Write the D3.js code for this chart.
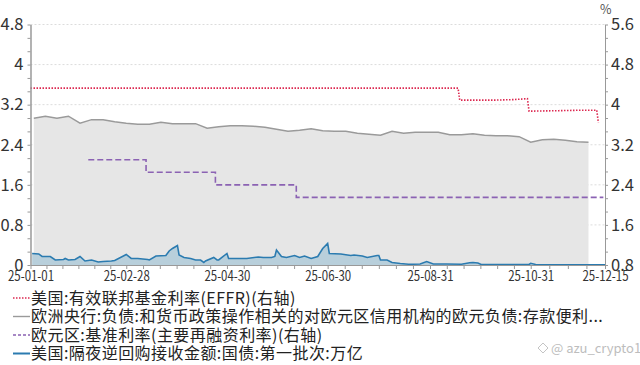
<!DOCTYPE html>
<html lang="zh">

<head>
    <meta charset="UTF-8">
    <title>Liquidity chart</title>
    <script src="https://cdn.jsdelivr.net/npm/d3@7"></script>
    <style>
        body { margin: 0; background: #fff; }
        svg { display: block; font-family: "Noto Sans CJK SC", "Noto Sans", sans-serif; }
    </style>
</head>

<body>
    <svg id="chart" width="640" height="365"></svg>

    <script>
        // tick labels
        const leftTicks = [0, 0.8, 1.6, 2.4, 3.2, 4, 4.8]
        const rightTicks = [0.8, 1.6, 2.4, 3.2, 4, 4.8, 5.6]
        const xTickDates = ['2025-01-01', '2025-02-28', '2025-04-30', '2025-06-30', '2025-08-31', '2025-10-31', '2025-12-15']

        // US EFFR (right axis)
        const effrDates = ['2025-01-01', '2025-09-17', '2025-09-18', '2025-10-08', '2025-10-20', '2025-10-29', '2025-10-30', '2025-11-17', '2025-12-01', '2025-12-10', '2025-12-11']
        const effrValues = [4.33, 4.33, 4.09, 4.09, 4.10, 4.12, 3.87, 3.88, 3.89, 3.89, 3.64]

        // ECB deposit facility, weekly on Fridays (left axis)
        const ecbStart = '2025-01-03'
        const ecbValues = [2.93, 2.97, 2.93, 2.97, 2.83, 2.90, 2.90, 2.86, 2.83, 2.81, 2.81, 2.85, 2.82, 2.82, 2.82, 2.73,
            2.76, 2.78, 2.78, 2.77, 2.75, 2.71, 2.67, 2.69, 2.72, 2.68, 2.67, 2.67, 2.63, 2.61, 2.59, 2.67, 2.63, 2.65,
            2.65, 2.65, 2.60, 2.60, 2.62, 2.59, 2.58, 2.58, 2.56, 2.45, 2.50, 2.51, 2.49, 2.46, 2.45]

        // euro area main refinancing rate (right axis)
        const mroDates = ['2025-02-05', '2025-03-12', '2025-04-23', '2025-06-11', '2025-12-14']
        const mroValues = [2.90, 2.65, 2.40, 2.15, 2.15]

        // US overnight reverse repo (left axis)
        const rrpDates = ['2025-01-02', '2025-01-06', '2025-01-08', '2025-01-13', '2025-01-16', '2025-01-21', '2025-01-22',
            '2025-01-24', '2025-01-28', '2025-01-31', '2025-02-03', '2025-02-07', '2025-02-11', '2025-02-14', '2025-02-19',
            '2025-02-21', '2025-02-28', '2025-03-03', '2025-03-07', '2025-03-13', '2025-03-14', '2025-03-18', '2025-03-24',
            '2025-03-26', '2025-03-28', '2025-03-31', '2025-04-01', '2025-04-04', '2025-04-08', '2025-04-11', '2025-04-14',
            '2025-04-16', '2025-04-17', '2025-04-22', '2025-04-24', '2025-04-25', '2025-04-30', '2025-05-01', '2025-05-06',
            '2025-05-12', '2025-05-19', '2025-05-22', '2025-05-27', '2025-05-29', '2025-05-30', '2025-06-02', '2025-06-05',
            '2025-06-10', '2025-06-13', '2025-06-16', '2025-06-20', '2025-06-24', '2025-06-27', '2025-06-30', '2025-07-01',
            '2025-07-08', '2025-07-14', '2025-07-16', '2025-07-21', '2025-07-24', '2025-07-30', '2025-07-31', '2025-08-01',
            '2025-08-05', '2025-08-08', '2025-08-13', '2025-08-18', '2025-08-21', '2025-08-25', '2025-08-29', '2025-09-02',
            '2025-09-10', '2025-09-19', '2025-09-24', '2025-09-26', '2025-09-29', '2025-10-01', '2025-10-14', '2025-10-30',
            '2025-10-31', '2025-11-03', '2025-11-07', '2025-11-20', '2025-12-02', '2025-12-15']
        const rrpValues = [0.23, 0.22, 0.17, 0.17, 0.10, 0.11, 0.13, 0.10, 0.11, 0.17, 0.08, 0.10, 0.06, 0.07, 0.08,
            0.09, 0.21, 0.13, 0.13, 0.11, 0.10, 0.18, 0.19, 0.28, 0.33, 0.39, 0.20, 0.15, 0.13, 0.10, 0.10,
            0.05, 0.08, 0.15, 0.10, 0.10, 0.23, 0.13, 0.13, 0.13, 0.16, 0.15, 0.15, 0.17, 0.30, 0.17, 0.15,
            0.19, 0.15, 0.18, 0.13, 0.17, 0.33, 0.43, 0.23, 0.22, 0.19, 0.20, 0.18, 0.15, 0.19, 0.19, 0.10,
            0.10, 0.05, 0.03, 0.015, 0.015, 0.02, 0.07, 0.02, 0.02, 0.015, 0.045, 0.05, 0.04, 0.01, 0.008, 0.01,
            0.035, 0.01, 0.006, 0.005, 0.005, 0.003]

        const legendLabels = [
            '美国:有效联邦基金利率(EFFR)(右轴)',
            '欧洲央行:负债:和货币政策操作相关的对欧元区信用机构的欧元负债:存款便利...',
            '欧元区:基准利率(主要再融资利率)(右轴)',
            '美国:隔夜逆回购接收金额:国债:第一批次:万亿'
        ]

        const parse = d3.timeParse('%Y-%m-%d')
        const zip = (dates, vals) => dates.map((d, i) => ({ date: parse(d), value: vals[i] }))

        const effr = zip(effrDates, effrValues)
        const mro = zip(mroDates, mroValues)
        const rrp = zip(rrpDates, rrpValues)
        const ecb = ecbValues.map((v, i) => ({ date: d3.timeDay.offset(parse(ecbStart), i * 7), value: v }))

        const plotLeft = 30.5, plotRight = 605, plotTop = 24.5, plotBottom = 265

        const x = d3.scaleTime().domain([parse(xTickDates[0]), parse(xTickDates[6])]).range([plotLeft, plotRight])
        const yL = d3.scaleLinear().domain([0, 4.8]).range([plotBottom, plotTop])
        const yR = d3.scaleLinear().domain([0.8, 5.6]).range([plotBottom, plotTop])

        const svg = d3.select('#chart')
        const fmt = v => String(+v.toFixed(1))

        // grid
        svg.append('g')
            .selectAll('line')
            .data(leftTicks.slice(1))
            .join('line')
            .attr('x1', plotLeft).attr('x2', plotRight)
            .attr('y1', d => yL(d)).attr('y2', d => yL(d))
            .attr('stroke', '#dcdcdc')
            .attr('stroke-dasharray', '2,2')

        // areas
        svg.append('path')
            .datum(ecb)
            .attr('fill', '#e6e6e6')
            .attr('d', d3.area().x(d => x(d.date)).y0(yL(0)).y1(d => yL(d.value)))

        svg.append('path')
            .datum(rrp)
            .attr('fill', '#b8cfdb')
            .attr('d', d3.area().x(d => x(d.date)).y0(yL(0)).y1(d => yL(d.value)))

        // lines
        svg.append('path')
            .datum(ecb)
            .attr('fill', 'none')
            .attr('stroke', '#9a9a9a')
            .attr('stroke-width', 1.4)
            .attr('d', d3.line().x(d => x(d.date)).y(d => yL(d.value)))

        svg.append('path')
            .datum(rrp)
            .attr('fill', 'none')
            .attr('stroke', '#2b7bb0')
            .attr('stroke-width', 1.6)
            .attr('d', d3.line().x(d => x(d.date)).y(d => yL(d.value)))

        svg.append('path')
            .datum(mro)
            .attr('fill', 'none')
            .attr('stroke', '#8b62b3')
            .attr('stroke-width', 1.6)
            .attr('stroke-dasharray', '6,3')
            .attr('d', d3.line().curve(d3.curveStepAfter).x(d => x(d.date)).y(d => yR(d.value)))

        svg.append('path')
            .datum(effr)
            .attr('fill', 'none')
            .attr('stroke', '#dc2850')
            .attr('stroke-width', 1.6)
            .attr('stroke-dasharray', '1.5,1.5')
            .attr('d', d3.line().x(d => x(d.date)).y(d => yR(d.value)))

        // axes
        const minorY = (ticks) => d3.range(ticks.length - 1).flatMap(i => [1, 2].map(k => ticks[i] + (ticks[i + 1] - ticks[i]) * k / 3))

        const styleAxis = (g, size) => {
            g.select('.domain').attr('stroke', '#999')
            g.selectAll('.tick line').attr('stroke', '#999')
            g.selectAll('.tick text').attr('fill', '#333').attr('font-size', size)
                .attr('font-family', '"Noto Sans CJK SC", "Noto Sans", sans-serif')
        }

        svg.append('g')
            .attr('transform', `translate(${plotLeft},0)`)
            .call(d3.axisLeft(yL).tickValues(minorY(leftTicks)).tickSize(3).tickFormat('').tickSizeOuter(0))
            .call(g => styleAxis(g, 15))
        svg.append('g')
            .attr('transform', `translate(${plotLeft},0)`)
            .call(d3.axisLeft(yL).tickValues(leftTicks).tickSize(3).tickPadding(4).tickFormat(fmt).tickSizeOuter(0))
            .call(g => styleAxis(g, 16.5))

        svg.append('g')
            .attr('transform', `translate(${plotRight},0)`)
            .call(d3.axisRight(yR).tickValues(minorY(rightTicks)).tickSize(3).tickFormat('').tickSizeOuter(0))
            .call(g => styleAxis(g, 15))
        svg.append('g')
            .attr('transform', `translate(${plotRight},0)`)
            .call(d3.axisRight(yR).tickValues(rightTicks).tickSize(3).tickPadding(3).tickFormat(fmt).tickSizeOuter(0))
            .call(g => styleAxis(g, 16.5))

        const xMajor = xTickDates.map(parse)
        const xMinor = d3.range(xMajor.length - 1).flatMap(i => {
            const a = +xMajor[i], b = +xMajor[i + 1]
            const n = Math.max(1, Math.round((b - a) / 864e5 / 10.2))
            return d3.range(1, n).map(k => new Date(a + (b - a) * k / n))
        })

        svg.append('g')
            .attr('transform', `translate(0,${plotBottom})`)
            .call(d3.axisBottom(x).tickValues(xMinor).tickSize(4).tickFormat('').tickSizeOuter(0))
            .call(g => styleAxis(g, 13))
        svg.append('g')
            .attr('transform', `translate(0,${plotBottom})`)
            .call(d3.axisBottom(x).tickValues(xMajor).tickSize(4).tickPadding(2).tickFormat(d3.timeFormat('%y-%m-%d')).tickSizeOuter(0))
            .call(g => styleAxis(g, 14))
            .call(g => g.selectAll('.tick text').attr('textLength', 46).attr('lengthAdjust', 'spacingAndGlyphs'))

        svg.append('text')
            .attr('x', plotRight - 5).attr('y', 14)
            .attr('font-size', 12.5).attr('fill', '#555')
            .text('%')

        // legend
        const legendStyles = [
            { stroke: '#dc2850', dash: '1.5,1.5', width: 1.6 },
            { stroke: '#9a9a9a', dash: null, width: 1.4 },
            { stroke: '#8b62b3', dash: '3,2', width: 1.6 },
            { stroke: '#2b7bb0', dash: null, width: 2 }
        ]

        const legend = svg.append('g')
            .selectAll('g')
            .data(legendLabels)
            .join('g')
            .attr('transform', (d, i) => `translate(0,${298 + i * 18.5})`)

        legend.append('line')
            .attr('x1', 13).attr('x2', 30)
            .attr('stroke', (d, i) => legendStyles[i].stroke)
            .attr('stroke-width', (d, i) => legendStyles[i].width)
            .attr('stroke-dasharray', (d, i) => legendStyles[i].dash)

        legend.append('text')
            .attr('x', 31).attr('y', 5.5)
            .attr('font-size', 16).attr('letter-spacing', 0.45).attr('fill', '#222')
            .text(d => d)

        // watermark
        const wm = svg.append('g').attr('transform', 'translate(538,348)').attr('fill', 'none').attr('stroke', '#c4c4c4')
        wm.append('path').attr('d', 'M0,0 L5,-5 L10,0 L5,5 Z')
        wm.append('text')
            .attr('x', 13).attr('y', 5)
            .attr('stroke', 'none').attr('fill', '#bdbdbd')
            .attr('font-size', 13)
            .text('@ azu_crypto1')
    </script>
</body>

</html>
